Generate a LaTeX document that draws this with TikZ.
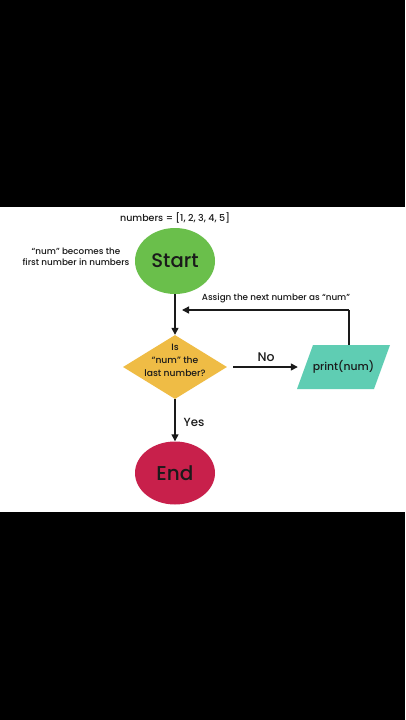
\documentclass[tikz,border=0pt]{standalone}
\usepackage{fontspec}
\setmainfont{Poppins}[UprightFont=* Medium]
\usetikzlibrary{shapes.geometric,arrows.meta}
\definecolor{startg}{HTML}{6ABF4B}
\definecolor{diay}{HTML}{EFBC45}
\definecolor{prt}{HTML}{5FCDB3}
\definecolor{endr}{HTML}{C8204B}
\definecolor{ink}{HTML}{1A1A1A}
\tikzset{
  lbl/.style={text=ink, inner sep=0pt},
  oval/.style={ellipse, inner sep=0pt, minimum width=80pt, text=ink},
  conn/.style={draw=ink, line width=1.4pt, -{Triangle[length=7pt,width=7pt]}},
  plainline/.style={draw=ink, line width=1.4pt}
}
\begin{document}
\begin{tikzpicture}[x=1pt,y=-1pt]
\useasboundingbox (0,0) rectangle (405,720);
\fill[black] (0,0) rectangle (405,207);
\fill[black] (0,512) rectangle (405,720);
\fill[white] (0,207) rectangle (405,512);

\node[lbl, font=\fontsize{9.5}{11}\selectfont] (nums) at (175,218) {numbers = [1, 2, 3, 4, 5]};
\node[lbl, font=\fontsize{8.8}{11.5}\selectfont, align=center] (note) at (76,257) {“num” becomes the\\first number in numbers};

\node[oval, fill=startg, minimum height=66pt, font=\fontsize{19.6}{22}\selectfont] (start) at (175,261) {Start};

\node[diamond, fill=diay, inner sep=0pt, minimum width=104pt, minimum height=64pt, aspect=1.6] (dec) at (175,367) {};
\node[lbl, font=\fontsize{9.2}{13}\selectfont, align=center] (dectext) at (175,360) {Is\\“num” the\\last number?};

% parallelogram
\fill[prt] (297,389) -- (313,345) -- (390,345) -- (374,389) -- cycle;
\node[lbl, minimum width=91pt, minimum height=44pt, font=\fontsize{10.8}{13}\selectfont] (prn) at (343.5,367) {print(num)};

\node[oval, fill=endr, minimum height=63pt, font=\fontsize{20}{22}\selectfont] (end) at (175,473) {End};

\coordinate (decE) at (233,367);
\coordinate (loopA) at (349,310);
\coordinate (loopB) at (182,310);

\draw[conn] (start.south) -- (dec.north);
\draw[conn] (decE) -- (prn.west);
\draw[conn] (dec.south) -- (end.north);
\draw[plainline] (prn.north -| loopA) -- (loopA);
\draw[conn] (loopA) -- (loopB);

\node[lbl, font=\fontsize{12.5}{14}\selectfont] (no) at (266,357) {No};
\node[lbl, font=\fontsize{11.8}{13}\selectfont] (yes) at (194,422) {Yes};
\node[lbl, font=\fontsize{8.8}{10}\selectfont] (assign) at (276,298) {Assign the next number as “num”};
\end{tikzpicture}
\end{document}
